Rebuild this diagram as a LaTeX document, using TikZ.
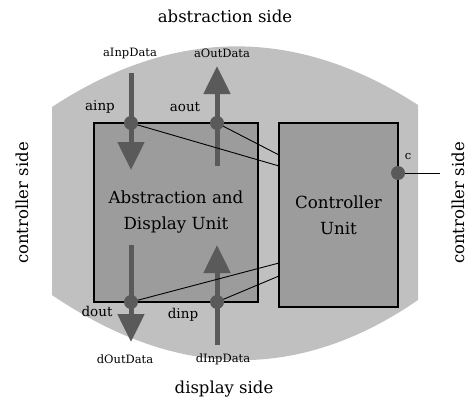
\documentclass[tikz,border=0pt]{standalone}
\usepackage{fontspec}
\setmainfont{DejaVu Serif}
\usetikzlibrary{positioning,arrows.meta}
\definecolor{bggray}{HTML}{C0C0C0}
\definecolor{boxgray}{HTML}{9C9C9C}
\definecolor{portgray}{HTML}{5A5A5A}
\tikzset{
  unitbox/.style={draw, fill=boxgray, line width=1.2pt, align=center, font=\fontsize{16.7}{26}\selectfont},
  port/.style={circle, fill=portgray, minimum size=14pt, inner sep=0pt},
  bigarrow/.style={draw=portgray, line width=5pt, -{Triangle[width=26pt,length=28pt]}},
  wire/.style={line width=0.9pt},
  portlabel/.style={font=\fontsize{13.5}{15}\selectfont},
  datalabel/.style={font=\fontsize{11.5}{13}\selectfont},
  sidelabel/.style={font=\fontsize{16.5}{18}\selectfont}
}
\begin{document}
\begin{tikzpicture}[x=1pt,y=-1pt]
		\useasboundingbox (0,0) rectangle (474,404);
		% grey region behind the units
		\fill[bggray] (52,107) .. controls (174,27) and (296,26) .. (418,105)
			-- (418,300) .. controls (299,382) and (177,380) .. (52,295) -- cycle;
		
		\node (adu) [unitbox, minimum width=164pt, minimum height=179pt] at (176,212.5) {Abstraction and\\Display Unit};
		\node (cu) [unitbox, minimum width=119pt, minimum height=184pt] at (338.5,215) {Controller\\Unit};
		
		\coordinate (ainpin) at (131,73);
		\coordinate (ainpout) at (131,170);
		\coordinate (aoutin) at (217,166);
		\coordinate (aoutout) at (217,66);
		\coordinate (doutin) at (131,245);
		\coordinate (doutout) at (131,342);
		\coordinate (dinpin) at (217,345);
		\coordinate (dinpout) at (217,245);
		\draw[bigarrow] (ainpin) -- (ainpout);
		\draw[bigarrow] (aoutin) -- (aoutout);
		\draw[bigarrow] (doutin) -- (doutout);
		\draw[bigarrow] (dinpin) -- (dinpout);
		
		\coordinate (cuainp) at (279,166);
		\coordinate (cuaout) at (279,155);
		\coordinate (cudout) at (279,263);
		\coordinate (cudinp) at (279,276);
		\coordinate (cext) at (440,173);
		\draw[wire] (131,123) -- (cuainp);
		\draw[wire] (217,123) -- (cuaout);
		\draw[wire] (131,302) -- (cudout);
		\draw[wire] (217,302) -- (cudinp);
		\draw[wire] (398,173) -- (cext);
		
		\node (ainp) [port] at (131,123) {};
		\node (aout) [port] at (217,123) {};
		\node (dout) [port] at (131,302) {};
		\node (dinp) [port] at (217,302) {};
		\node (c) [port] at (398,173) {};
		
		\node (ainplabel) [portlabel] at (100,107) {ainp};
		\node (aoutlabel) [portlabel] at (185,107) {aout};
		\node (doutlabel) [portlabel] at (97,311) {dout};
		\node (dinplabel) [portlabel] at (183,315) {dinp};
		\node (clabel) [datalabel] at (408,157) {c};
		\node (ainpdata) [datalabel] at (130,54) {aInpData};
		\node (aoutdata) [datalabel] at (222,53) {aOutData};
		\node (doutdata) [datalabel] at (125,359) {dOutData};
		\node (dinpdata) [datalabel] at (223,359) {dInpData};
		
		\node (abside) [sidelabel] at (225,16) {abstraction side};
		\node (diside) [sidelabel] at (224,389) {display side};
		\node (coleft) [sidelabel, rotate=90] at (22,203) {controller side};
		\node (coright) [sidelabel, rotate=90] at (458,203) {controller side};
\end{tikzpicture}
\end{document}
